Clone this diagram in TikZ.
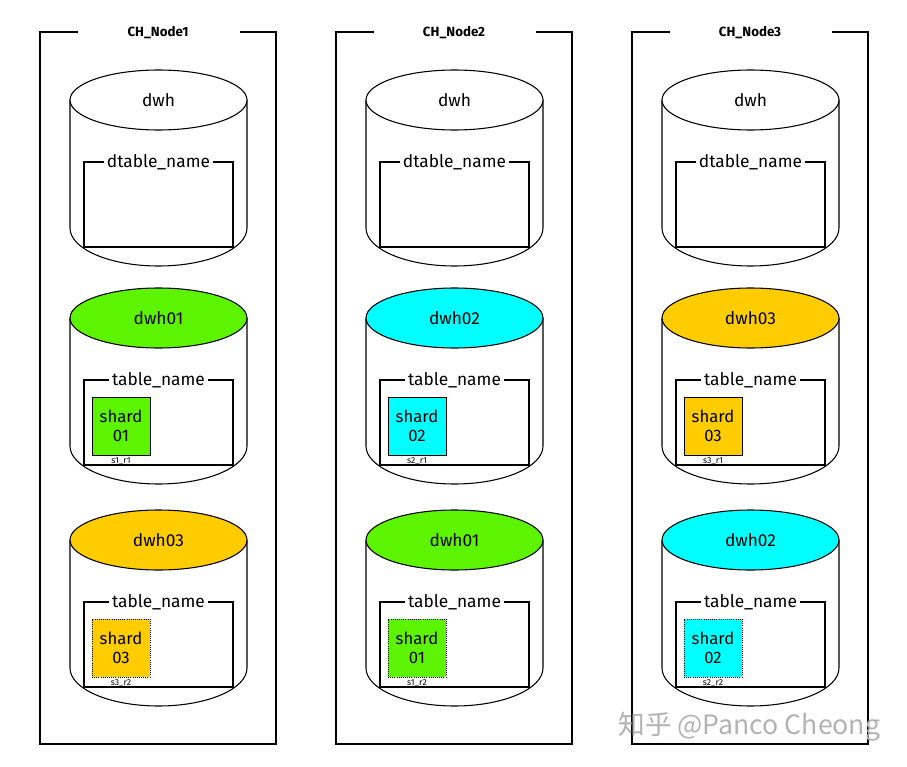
\documentclass[tikz,border=0pt]{standalone}
\usepackage{fontspec}
\setmainfont{Fira Sans}
\newfontfamily\cjk{Noto Sans CJK SC}
\definecolor{cg}{HTML}{5CF400}
\definecolor{cc}{HTML}{00FFFF}
\definecolor{cy}{HTML}{FFCC00}
\tikzset{
 frame/.style={line width=1.8pt},
 cyl/.style={line width=0.8pt},
 tbox/.style={draw,line width=0.8pt},
 lbl/.style={fill=white,inner sep=2pt,font=\fontsize{13}{13}\selectfont},
 shard/.style={draw,line width=0.6pt,minimum width=43.5pt,minimum height=43.5pt,inner sep=0pt,align=center,font=\fontsize{12.5}{14}\selectfont},
 tiny/.style={font=\fontsize{6.5}{7}\selectfont,inner sep=0pt},
}
% #1 x offset, #2 top center y, #3 fill, #4 label, #5 table label, #6 shard text, #7 shard fill, #8 small label, #9 style
\newcommand{\mycyl}[9]{
 \begin{scope}[shift={(#1,#2)}]
  \draw[cyl,fill=white] (70,0) -- (70,128) arc[start angle=180,end angle=0,x radius=88.5,y radius=38] -- (247,0);
  \draw[cyl,fill=#3] (158.5,0) ellipse[x radius=88.5,y radius=30];
  \node[font=\fontsize{13}{13}\selectfont] at (158.5,0) {#4};
  \draw[tbox] (84,62) rectangle (233,147);
  \node[lbl] at (158.5,62) {#5};
  \ifx&#6&\else
  \node[shard,fill=#7,#9] at (121,108) {#6};
  \node[tiny] at (121,143) {#8};
  \fi
 \end{scope}
}
\begin{document}
\begin{tikzpicture}[x=0.75pt,y=-0.75pt]
\useasboundingbox (0,0) rectangle (907,767);
\foreach \o/\n in {0/1,296/2,592/3}{
 \begin{scope}[shift={(\o,0)}]
 \draw[frame] (78,32) -- (40,32) -- (40,744) -- (276,744) -- (276,32) -- (240,32);
 \node[font=\bfseries\fontsize{10}{10}\selectfont] at (158,33) {CH\_Node\n};
 \end{scope}
}
\mycyl{0}{100}{white}{dwh}{dtable\_name}{}{}{}{}
\mycyl{0}{318}{cg}{dwh01}{table\_name}{shard\\01}{cg}{s1\_r1}{solid}
\mycyl{0}{540}{cy}{dwh03}{table\_name}{shard\\03}{cy}{s3\_r2}{densely dotted}
\mycyl{296}{100}{white}{dwh}{dtable\_name}{}{}{}{}
\mycyl{296}{318}{cc}{dwh02}{table\_name}{shard\\02}{cc}{s2\_r1}{solid}
\mycyl{296}{540}{cg}{dwh01}{table\_name}{shard\\01}{cg}{s1\_r2}{densely dotted}
\mycyl{592}{100}{white}{dwh}{dtable\_name}{}{}{}{}
\mycyl{592}{318}{cy}{dwh03}{table\_name}{shard\\03}{cy}{s3\_r1}{solid}
\mycyl{592}{540}{cc}{dwh02}{table\_name}{shard\\02}{cc}{s2\_r2}{densely dotted}
\node[text=black!30,font=\cjk\fontsize{20}{20}\selectfont,anchor=east] at (885,727) {知乎 @Panco Cheong};
\end{tikzpicture}
\end{document}
